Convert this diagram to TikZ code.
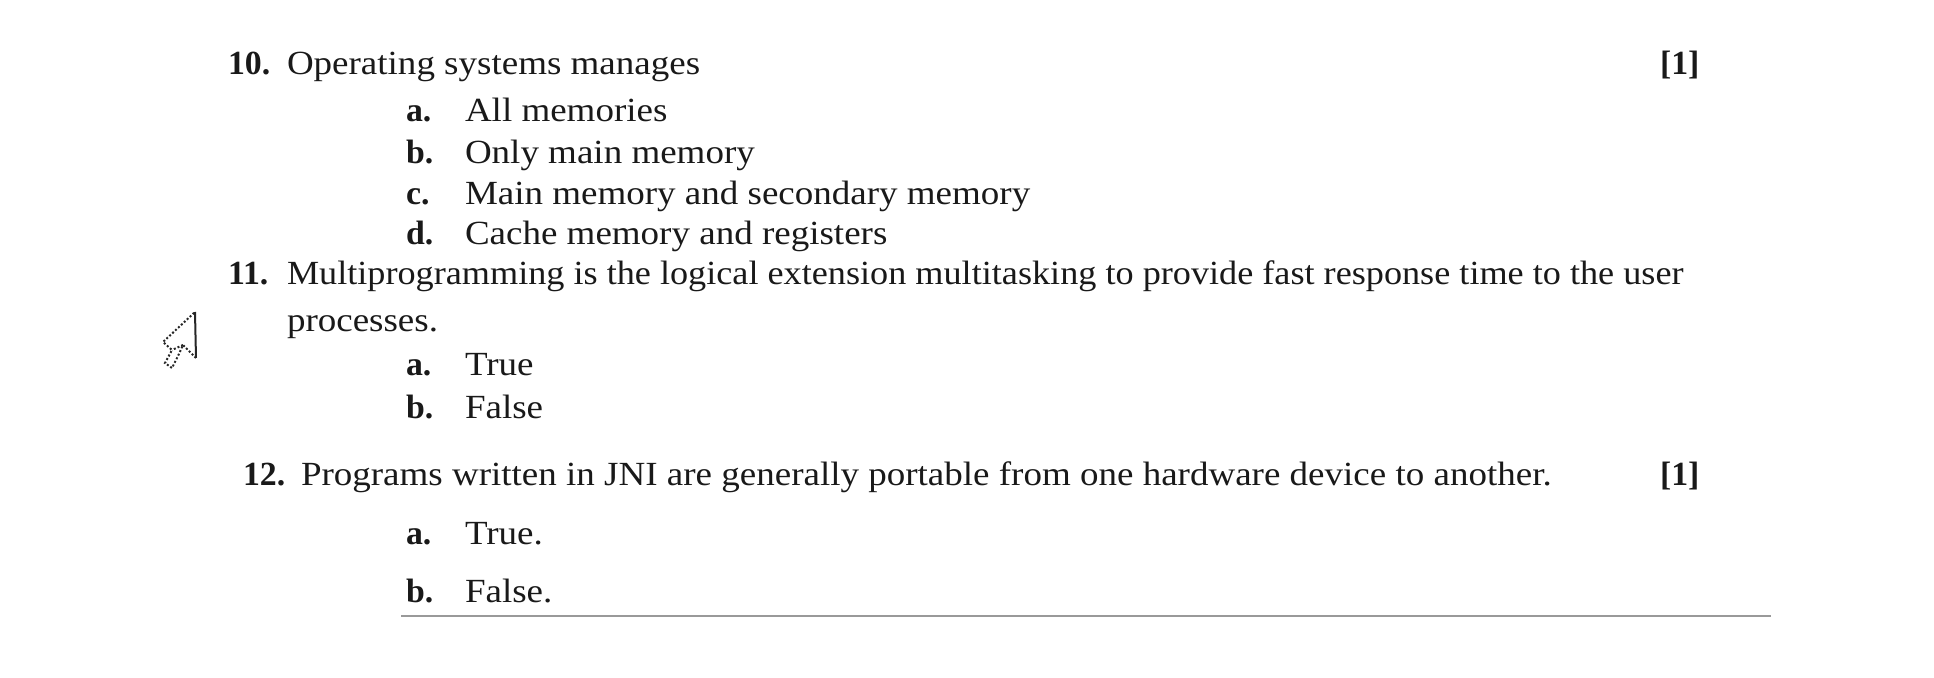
\documentclass[tikz,border=0pt]{standalone}
\usepackage{fontspec}
\setmainfont{Liberation Serif}
\newfontfamily\widefont[FakeStretch=1.095]{Liberation Serif}
\newfontfamily\longfont[FakeStretch=1.071]{Liberation Serif}
\tikzset{
  txt/.style={anchor=base west,inner sep=0pt,outer sep=0pt,font=\fontsize{16.9}{20}\widefont,text=black!90},
  txtlong/.style={txt,font=\fontsize{16.9}{20}\longfont},
  num/.style={txt,font=\fontsize{16.9}{20}\selectfont\rmfamily\bfseries},
}
\begin{document}
\begin{tikzpicture}[x=0.5pt,y=-0.5pt]
\useasboundingbox (0,0) rectangle (1934,678);
\coordinate (R) at (401,616);
\coordinate (S) at (1771,616);
\coordinate (P) at (195,312);
\coordinate (Pa) at (196,358);
\coordinate (Pb) at (183,345);
\coordinate (Pc) at (178,356);
\coordinate (Pd) at (172,368);
\coordinate (Pe) at (165,363);
\coordinate (Pf) at (172,350);
\coordinate (Pg) at (163,342);
% question 10
\node [num] (n10) at (228,75) {10.};
\node [txt] (q10) at (287,75) {Operating systems manages};
\node [num] (m10) at (1660,75) {[1]};
\node [num] (l10a) at (406,122) {a.};
\node [txt] (o10a) at (465,122) {All memories};
\node [num] (l10b) at (406,164) {b.};
\node [txt] (o10b) at (465,164) {Only main memory};
\node [num] (l10c) at (406,205) {c.};
\node [txt] (o10c) at (465,205) {Main memory and secondary memory};
\node [num] (l10d) at (406,245) {d.};
\node [txt] (o10d) at (465,245) {Cache memory and registers};
% question 11
\node [num] (n11) at (228,285) {11.};
\node [txtlong] (q11) at (287,285) {Multiprogramming is the logical extension multitasking to provide fast response time to the user};
\node [txt] (q11b) at (287,332) {processes.};
\node [num] (l11a) at (406,376) {a.};
\node [txt] (o11a) at (465,376) {True};
\node [num] (l11b) at (406,419) {b.};
\node [txt] (o11b) at (465,419) {False};
% question 12
\node [num] (n12) at (243,486) {12.};
\node [txt] (q12) at (301,486) {Programs written in JNI are generally portable from one hardware device to another.};
\node [num] (m12) at (1660,486) {[1]};
\node [num] (l12a) at (406,545) {a.};
\node [txt] (o12a) at (465,545) {True.};
\node [num] (l12b) at (406,603) {b.};
\node [txt] (o12b) at (465,603) {False.};
\draw [black!40,line width=1.1pt] (R) -- (S);
% pointer
\draw [black!85,line width=1pt] (P) -- (Pa);
\draw [black!85,line width=1pt,densely dotted] (Pa) -- (Pb) -- (Pc) -- (Pd) -- (Pe) -- (Pf) -- (Pg) -- (P);
\draw [black!85,line width=1pt,densely dotted] (Pb) -- (Pf);
\end{tikzpicture}
\end{document}
